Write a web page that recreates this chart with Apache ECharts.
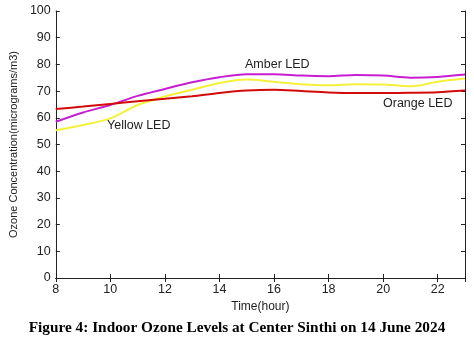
<!DOCTYPE html>
<html><head><meta charset="utf-8">
<script src="https://cdn.jsdelivr.net/npm/echarts@6/dist/echarts.min.js"></script>
<style>html,body{margin:0;padding:0;background:#fff}#c{width:474px;height:345px}</style>
</head><body><div id="c"></div>
<script>
const hours = [8,9,10,11,12,13,14,15,16,17,18,19,20,21,22,23];
const orangeLED = [63.3,64.2,65.2,66.2,67.1,68.1,69.3,70.2,70.5,70.0,69.5,69.3,69.3,69.4,69.6,70.2];
const amberLED  = [58.5,62.0,64.8,68.2,70.8,73.3,75.2,76.3,76.3,75.8,75.6,76.0,75.8,75.0,75.3,76.2];
const yellowLED = [55.3,57.3,59.8,64.8,68.0,70.5,73.0,74.3,73.5,72.6,72.2,72.6,72.5,71.8,73.5,74.7];
const seriesNames = ['Yellow LED','Amber LED','Orange LED'];
const xTitle = 'Time(hour)';
const yTitle = 'Ozone Concentration(micrograms/m3)';
const caption = 'Figure 4: Indoor Ozone Levels at Center Sinthi on 14 June 2024';

const pair = arr => hours.map((h,i)=>[h,arr[i]]);
const chart = echarts.init(document.getElementById('c'), null, {renderer:'canvas'});
const axisLine = {show:true, lineStyle:{color:'#222', width:1}};
const tick = {show:true, inside:true, length:4, lineStyle:{color:'#222'}};
const FF = 'Liberation Sans, Arial, sans-serif';
const lbl = {color:'#222', fontSize:12.5, fontFamily:FF};
chart.setOption({
  animation:false,
  backgroundColor:'#fff',
  grid:{left:53, right:9, top:11, bottom:67},
  xAxis:[
    {type:'value', min:8, max:23, interval:2, position:'bottom',
     axisLine, axisTick:tick, splitLine:{show:false},
     axisLabel:Object.assign({margin:5, showMaxLabel:false}, lbl),
     name:xTitle, nameLocation:'middle', nameGap:16,
     nameTextStyle:{color:'#222', fontSize:12, fontFamily:FF}},
    {type:'value', min:8, max:23, interval:2, position:'top',
     axisLine, axisTick:tick, splitLine:{show:false}, axisLabel:{show:false}}
  ],
  yAxis:[
    {type:'value', min:0, max:100, interval:10, position:'left',
     axisLine, axisTick:tick, splitLine:{show:false},
     axisLabel:Object.assign({margin:5}, lbl),
     name:yTitle, nameLocation:'middle', nameGap:36,
     nameTextStyle:{color:'#222', fontSize:11, fontFamily:FF}},
    {type:'value', min:0, max:100, interval:10, position:'right',
     axisLine, axisTick:tick, splitLine:{show:false}, axisLabel:{show:false}}
  ],
  series:[
    {name:seriesNames[0], type:'line', data:pair(yellowLED), smooth:0.3, showSymbol:false,
     lineStyle:{color:'#f5f03a', width:2}},
    {name:seriesNames[1], type:'line', data:pair(amberLED), smooth:0.3, showSymbol:false,
     lineStyle:{color:'#c81ed2', width:2}},
    {name:seriesNames[2], type:'line', data:pair(orangeLED), smooth:0.3, showSymbol:false,
     lineStyle:{color:'#d20a0a', width:2}}
  ],
  graphic:[
    {type:'text', left:245, top:58, style:{text:seriesNames[1], fill:'#222', font:'12.5px '+FF}},
    {type:'text', left:107, top:119, style:{text:seriesNames[0], fill:'#222', font:'12.5px '+FF}},
    {type:'text', left:383, top:97, style:{text:seriesNames[2], fill:'#222', font:'12.5px '+FF}},
    {type:'text', left:'center', top:321, style:{text:caption, fill:'#000', font:'bold 15.3px Liberation Serif, Times New Roman, serif'}}
  ]
});
</script></body></html>
